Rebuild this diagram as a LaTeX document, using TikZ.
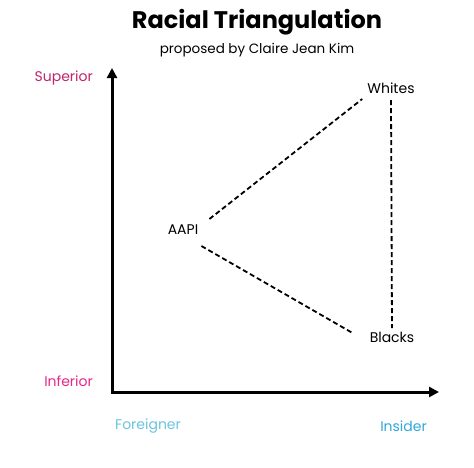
\documentclass[tikz,border=0pt]{standalone}
\usepackage{fontspec}
\setmainfont{Poppins}
\usetikzlibrary{arrows.meta,calc}
\definecolor{supcol}{HTML}{C0246E}
\definecolor{infcol}{HTML}{E8288A}
\definecolor{forcol}{HTML}{6CC4E0}
\definecolor{inscol}{HTML}{30A8DC}
\begin{document}
\begin{tikzpicture}[x=1pt,y=-1pt,
  lbl/.style={inner sep=0pt,font=\fontsize{14}{16}\selectfont},
  axis/.style={line width=3pt,{Triangle[length=10pt,width=10pt]}-{Triangle[length=10pt,width=10pt]}},
  dline/.style={line width=1.8pt,dash pattern=on 5pt off 3pt}]
\useasboundingbox (0,0) rectangle (474,467);
\fill[white] (0,0) rectangle (474,467);
\node[inner sep=0pt,font=\fontsize{24}{28}\bfseries\selectfont] (title) at (257,22) {Racial Triangulation};
\node[inner sep=0pt,font=\fontsize{13.5}{16}\selectfont] (sub) at (257,50) {proposed by Claire Jean Kim};
\coordinate (o) at (112,392);
\coordinate (ytip) at (112,68);
\coordinate (xtip) at (439,392);
\draw[axis] (ytip) -- (o) -- (xtip);
\node[lbl,text=supcol,anchor=east] (sup) at (93,78) {Superior};
\node[lbl,text=infcol,anchor=east] (inf) at (93,381) {Inferior};
\node[lbl,text=forcol,anchor=west] (for) at (115,426) {Foreigner};
\node[lbl,text=inscol,anchor=east] (ins) at (427,426) {Insider};
\node[lbl] (aapi) at (183,230) {AAPI};
\node[lbl] (whites) at (391,88) {Whites};
\node[lbl] (blacks) at (392,337) {Blacks};
\draw[dline] ($(aapi.east)+(11,-11)$) -- ($(whites.west)+(-5,11)$);
\draw[dline] ($(aapi.east)+(3,16)$) -- ($(blacks.west)+(-17,-4)$);
\draw[dline] ($(whites)+(0,12)$) -- ($(blacks)+(0,-9)$);
\end{tikzpicture}
\end{document}
